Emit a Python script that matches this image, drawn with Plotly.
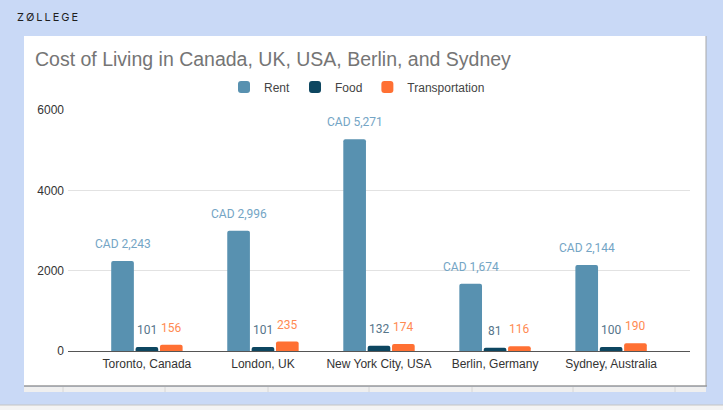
import plotly.graph_objects as go

# ---- data ----
cities = ["Toronto, Canada", "London, UK", "New York City, USA", "Berlin, Germany", "Sydney, Australia"]
rent = [2243, 2996, 5271, 1674, 2144]
food = [101, 101, 132, 81, 100]
transport = [156, 235, 174, 116, 190]
series_names = ["Rent", "Food", "Transportation"]
y_ticks = [0, 2000, 4000, 6000]

# ---- style ----
W, H = 723, 410
L, R, T, B = 68, 33, 110, 59          # plot area: x 68..690, y 110..351
PW, PH = W - L - R, H - T - B
BG = "#c9d9f6"
bar_colors = ["#5891b0", "#0d4660", "#ff7033"]
label_colors = ["#74a5c5", "#56758a", "#ff8a52"]
BARGAP, GROUPGAP = 0.37, 0.07


def px(x):
    return (x - L) / PW


def py(y):
    return (H - B - y) / PH


fig = go.Figure()
for name, vals, col in zip(series_names, [rent, food, transport], bar_colors):
    fig.add_trace(go.Bar(name=name, x=cities, y=vals, marker=dict(color=col, line=dict(width=0))))

# data labels placed above each bar
slot = (1 - BARGAP) / 3
annotations = []
for si, vals in enumerate([rent, food, transport]):
    for ci, v in enumerate(vals):
        txt = f"CAD {v:,}" if si == 0 else f"{v:,}"
        annotations.append(dict(
            x=ci + (si - 1) * slot, y=v, xref="x", yref="y",
            text=txt, showarrow=False, yanchor="middle", yshift=17,
            font=dict(family="Roboto", size=12, color=label_colors[si]),
        ))

# logo
annotations.append(dict(
    x=px(15), y=py(17), xref="paper", yref="paper", xanchor="left", yanchor="middle",
    text="Z\u2009Ø\u2009L\u2009L\u2009E\u2009G\u2009E", showarrow=False,
    font=dict(family="Inter", size=11, color="#1e1e1e"),
))

shapes = [
    # white card
    dict(type="rect", xref="paper", yref="paper", x0=px(24), x1=px(706), y0=py(386), y1=py(36),
         fillcolor="white", line=dict(width=0), layer="below"),
    # right & bottom border
    dict(type="line", xref="paper", yref="paper", x0=px(706), x1=px(706), y0=py(386), y1=py(36),
         line=dict(color="#a8a8a8", width=1), layer="below"),
    dict(type="line", xref="paper", yref="paper", x0=px(24), x1=px(707), y0=py(386), y1=py(386),
         line=dict(color="#9a9a9a", width=1.5), layer="below"),
    # grey strip under card
    dict(type="rect", xref="paper", yref="paper", x0=px(24), x1=px(706), y0=py(392), y1=py(387),
         fillcolor="#efefef", line=dict(width=0), layer="below"),
    # bottom bar of page
    dict(type="rect", xref="paper", yref="paper", x0=px(0), x1=px(723), y0=py(410), y1=py(405),
         fillcolor="#f4f4f4", line=dict(width=0), layer="below"),
    dict(type="line", xref="paper", yref="paper", x0=px(0), x1=px(723), y0=py(405), y1=py(405),
         line=dict(color="#c4c4c4", width=1), layer="below"),
]
for gx in [63, 165, 268, 369, 472, 573, 675]:
    shapes.append(dict(type="line", xref="paper", yref="paper", x0=px(gx), x1=px(gx), y0=py(392), y1=py(387),
                       line=dict(color="#d6d6d6", width=1), layer="below"))

fig.update_layout(
    width=W, height=H,
    margin=dict(l=L, r=R, t=T, b=B, autoexpand=False),
    paper_bgcolor=BG, plot_bgcolor="rgba(0,0,0,0)",
    barmode="group", bargap=BARGAP, bargroupgap=GROUPGAP, barcornerradius=2,
    font=dict(family="Liberation Sans, Arial", size=12, color="#333333"),
    title=dict(text="Cost of Living in Canada, UK, USA, Berlin, and Sydney",
               x=35 / W, xref="container", xanchor="left",
               y=1 - 59 / H, yref="container", yanchor="middle",
               font=dict(family="Liberation Sans, Arial", size=19.5, color="#757575")),
    legend=dict(orientation="h", x=px(357), xanchor="center", y=py(87), yanchor="middle",
                font=dict(family="Liberation Sans, Arial", size=12, color="#444444"),
                bgcolor="rgba(0,0,0,0)", traceorder="normal"),
    xaxis=dict(type="category", range=[-0.68, 4.68], showline=True, linecolor="#555555", linewidth=1,
               ticks="", showgrid=False, tickfont=dict(size=12, color="#333333"), ticklabelstandoff=2),
    yaxis=dict(range=[0, 6000], tickvals=y_ticks, ticktext=[str(t) for t in y_ticks],
               showgrid=True, gridcolor="#e2e2e2", gridwidth=1, zeroline=False, showline=False,
               ticks="", tickfont=dict(size=12, color="#333333"), ticklabelstandoff=3),
    annotations=annotations,
    shapes=shapes,
)

fig.write_html("out.html")
